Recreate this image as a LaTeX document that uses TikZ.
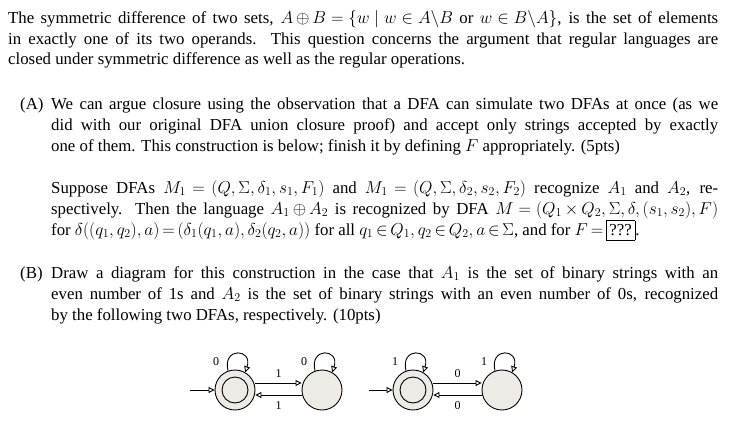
\documentclass[tikz,border=0pt]{standalone}
\usepackage{fontspec}
\setmainfont{Liberation Serif}
\usetikzlibrary{arrows.meta}
\thickmuskip=3mu plus 2mu minus 1mu
\medmuskip=2mu plus 1mu minus 1mu
\begin{document}
\begin{tikzpicture}[x=1pt,y=-1pt,
  txt/.style={anchor=base west,inner sep=0pt,font=\fontsize{16.8}{19}\selectfont},
  st/.style={circle,draw,fill=stfill,minimum size=40pt,inner sep=0pt,line width=0.9pt},
  ed/.style={-{Triangle[open,length=6pt,width=6pt]},line width=0.9pt},
  lb/.style={font=\fontsize{12}{12}\selectfont,inner sep=1pt}]
\definecolor{stfill}{HTML}{EEEBE6}
\useasboundingbox (0,0) rectangle (748,421);
\node[txt] (l1) at (8,23) {\hbox to 710pt{The symmetric difference of two sets, $A\oplus B=\{w\mid w\in A\backslash B$ or $w\in B\backslash A\}$, is the set of elements}};
\node[txt] (l2) at (8,44) {\hbox to 710pt{in exactly one of its two operands. This question concerns the argument that regular languages are}};
\node[txt] (l3) at (8,64) {closed under symmetric difference as well as the regular operations.};
\node[txt] (a0) at (20,109) {(A)};
\node[txt] (a1) at (51,109) {\hbox to 667pt{We can argue closure using the observation that a DFA can simulate two DFAs at once (as we}};
\node[txt] (a2) at (51,130) {\hbox to 667pt{did with our original DFA union closure proof) and accept only strings accepted by exactly}};
\node[txt] (a3) at (51,151) {one of them. This construction is below; finish it by defining $F$ appropriately. (5pts)};
\node[txt] (p1) at (51,193) {\hbox to 667pt{Suppose DFAs $M_1=(Q,\Sigma,\delta_1,s_1,F_1)$ and $M_1=(Q,\Sigma,\delta_2,s_2,F_2)$ recognize $A_1$ and $A_2$, re-}};
\node[txt] (p2) at (51,214) {\hbox to 667pt{spectively. Then the language $A_1\oplus A_2$ is recognized by DFA $M=(Q_1\times Q_2,\Sigma,\delta,(s_1,s_2),F)$}};
\node[txt] (p3) at (51,235) {for $\delta((q_1,q_2),a)=(\delta_1(q_1,a),\delta_2(q_2,a))$ for all $q_1\in Q_1,q_2\in Q_2,a\in\Sigma$, and for $F=$\,\fbox{\rule[-2pt]{0pt}{11pt}???}.};
\node[txt] (b0) at (20,278) {(B)};
\node[txt] (b1) at (51,278) {\hbox to 667pt{Draw a diagram for this construction in the case that $A_1$ is the set of binary strings with an}};
\node[txt] (b2) at (51,299) {\hbox to 667pt{even number of 1s and $A_2$ is the set of binary strings with an even number of 0s, recognized}};
\node[txt] (b3) at (51,320) {by the following two DFAs, respectively. (10pts)};
% DFA 1
\node[st] (q0) at (235,390) {};
\node[circle,draw,line width=0.9pt,minimum size=26pt] (q0i) at (q0) {};
\node[st] (q1) at (322,390) {};
\coordinate (s0) at (190,390);
\draw[ed] (s0) -- (q0);
\draw[ed] ([yshift=7pt]q0.east) -- ([yshift=7pt]q1.west) node[lb,midway,above=4pt] {1};
\draw[ed] ([yshift=-5pt]q1.west) -- ([yshift=-5pt]q0.east) node[lb,midway,below=5pt] {1};
\draw[ed] (q0.110) .. controls +(-6,-24) and +(8,-24) .. (q0.60);
\node[lb] at (216,362) {0};
\draw[ed] (q1.110) .. controls +(-6,-24) and +(8,-24) .. (q1.60);
\node[lb] at (304,362) {0};
% DFA 2
\node[st] (r0) at (413,390) {};
\node[circle,draw,line width=0.9pt,minimum size=26pt] (r0i) at (r0) {};
\node[st] (r1) at (502,390) {};
\coordinate (s1) at (369,390);
\draw[ed] (s1) -- (r0);
\draw[ed] ([yshift=7pt]r0.east) -- ([yshift=7pt]r1.west) node[lb,midway,above=4pt] {0};
\draw[ed] ([yshift=-5pt]r1.west) -- ([yshift=-5pt]r0.east) node[lb,midway,below=5pt] {0};
\draw[ed] (r0.110) .. controls +(-6,-24) and +(8,-24) .. (r0.60);
\node[lb] at (395,362) {1};
\draw[ed] (r1.110) .. controls +(-6,-24) and +(8,-24) .. (r1.60);
\node[lb] at (484,362) {1};
\end{tikzpicture}
\end{document}
